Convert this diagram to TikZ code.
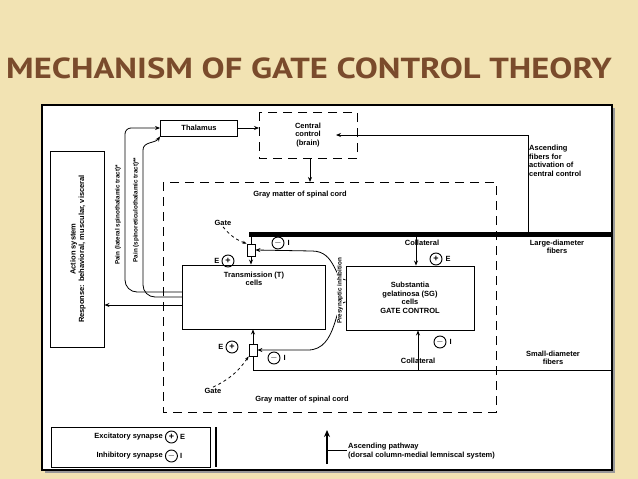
\documentclass[tikz,border=0pt]{standalone}
\usepackage{fontspec}
\setmainfont{Liberation Sans}
\newfontfamily\titlefont{PT Sans}
\usetikzlibrary{positioning, arrows.meta}
\definecolor{slidebg}{HTML}{F2E3B3}
\definecolor{titlebrown}{HTML}{7A4B2C}
\tikzset{
  lbl/.style={font=\fontsize{7.5}{8.5}\selectfont\bfseries, align=center, inner sep=1pt},
  small/.style={lbl, font=\fontsize{6.3}{7}\selectfont\bfseries},
  box/.style={draw, line width=0.9pt, lbl},
  syn/.style={draw, circle, line width=0.9pt, inner sep=0pt, minimum size=12pt, font=\fontsize{9}{9}\selectfont\bfseries},
  gatebox/.style={draw, line width=0.8pt, minimum width=8pt, minimum height=12pt, inner sep=0pt},
  fib/.style={line width=0.8pt},
  dashline/.style={line width=0.9pt, dash pattern=on 9pt off 6pt},
  tip/.style={-{Stealth[length=5pt,width=4pt]}}
}
\begin{document}
\begin{tikzpicture}[x=1pt, y=-1pt]
\useasboundingbox (0,0) rectangle (638,479);
\fill[slidebg] (0,0) rectangle (638,479);
\node[anchor=west, inner sep=0pt, text=titlebrown, xscale=1.19, font=\titlefont\fontsize{29}{30}\selectfont\bfseries] (title) at (6,68) {MECHANISM OF GATE CONTROL THEORY};
% frame
\fill[black!40] (45,108) rectangle (615,473);
\draw[line width=2pt, fill=white] (42,105) rectangle (612,470);
\begin{scope}
\clip (43,106) rectangle (611,469);
% upper part
\node[box, minimum width=77pt, minimum height=16pt] (thal) at (199,128) {Thalamus};
\node[lbl] (cc) at (308,135) {Central\\control\\(brain)};
\draw[dashline] (259,112) rectangle (357,158);
\coordinate (ccL) at (259,128);
\draw[fib, tip] (thal.east) -- (ccL);
\node[lbl, anchor=north west, align=left] (asc) at (528,144) {Ascending\\fibers for\\activation of\\central control};
\coordinate (ascB) at (528,234);
\draw[fib, tip] (ascB) -- (528,135) -- (336,135);
% gray matter
\draw[dashline] (163,182) rectangle (496,412);
\draw[fib, tip] (310,158) -- (310,182);
\node[lbl] (gmT) at (300,195) {Gray matter of spinal cord};
\node[lbl] (gmB) at (302,400) {Gray matter of spinal cord};
% cells
\node[box, minimum width=143pt, minimum height=64pt, text depth=36pt] (T) at (254,297) {Transmission (T)\\cells};
\node[box, minimum width=128pt, minimum height=64pt] (SG) at (410,298) {Substantia\\gelatinosa (SG)\\cells\\GATE CONTROL};
% large fibers
\coordinate (lfL) at (249,234);
\draw[line width=5pt] (lfL) -- (640,234);
\node[lbl] (lfT) at (557,247) {Large-diameter\\fibers};
\node[gatebox] (g1) at (251,250) {};
\draw[fib] (251,234) -- (g1.north);
\draw[fib, tip] (g1.south) -- (T.north -| g1);
\node[lbl] (gate1) at (223,223) {Gate};
\draw[fib, dashed, -{Stealth[length=4pt]}] (gate1.south) to[bend right=15] (g1.north west);
\node[syn] (p1) at (228,261) {+};
\node[lbl, left=1pt of p1] {E};
\node[syn] (m1) at (278,243) {$-$};
\node[lbl, right=2pt of m1] {I};
\coordinate (col1) at (416,234);
\draw[fib, tip] (col1) -- (SG.north -| col1);
\node[lbl] (colT) at (422,243) {Collateral};
\node[syn] (p2) at (436,259) {+};
\node[lbl, right=2pt of p2] {E};
% small fibers
\node[gatebox] (g2) at (253,350) {};
\coordinate (sfL) at (253,370);
\draw[fib] (sfL) -- (640,370);
\draw[fib] (sfL) -- (g2.south);
\draw[fib, tip] (g2.north) -- (T.south -| g2);
\node[lbl] (sfT) at (553,358) {Small-diameter\\fibers};
\node[lbl] (gate2) at (213,391) {Gate};
\draw[fib, dashed, -{Stealth[length=4pt]}] (gate2.north) to[bend right=15] (g2.south west);
\node[syn] (p3) at (232,347) {+};
\node[lbl, left=1pt of p3] {E};
\node[syn] (m2) at (274,358) {$-$};
\node[lbl, right=2pt of m2] {I};
\coordinate (col2) at (418,370);
\draw[fib, tip] (col2) -- (SG.south -| col2);
\node[lbl] (colB) at (418,361) {Collateral};
\node[syn] (m3) at (440,342) {$-$};
\node[lbl, right=2pt of m3] {I};
% presynaptic inhibition
\draw[fib, tip] (SG.west |- 0,280) .. controls (334,280) and (336,251) .. (312,251) -- (g1.east);
\draw[fib, tip] (SG.west |- 0,302) .. controls (334,302) and (338,350) .. (308,350) -- (g2.east);
\node[small, rotate=90, fill=white, inner sep=0.5pt] (pre) at (340,291) {Presynaptic inhibition};
% output side
\node[box, minimum width=54pt, minimum height=196pt] (act) at (77,249) {};
\node[lbl, rotate=90] (actT) at (78,249) {Action system\\Response: behavioral, muscular, visceral};
\draw[fib, tip] (T.west |- 0,305) -- (act.east |- 0,305);
\draw[fib, tip] (T.west |- 0,292) -- (137,292) to[out=180, in=270] (125,280) -- (125,134) to[out=90, in=180] (131,128) -- (thal.west);
\draw[fib, tip] (T.west |- 0,297) -- (155,297) to[out=180, in=270] (143,285) -- (143,150) to[out=90, in=235] (thal.south west);
\node[small, rotate=90] (p1t) at (118,215) {Pain (lateral spinothalamic tract)*};
\node[small, rotate=90] (p2t) at (136,210) {Pain (spinoreticulothalamic tract)**};
% legend
\draw[line width=0.9pt] (51,427) rectangle (210,467);
\draw[line width=1.2pt] (216,427) -- (216,467);
\node[lbl, anchor=east] (exc) at (164,437) {Excitatory synapse};
\node[syn, right=1pt of exc] (lp) {+};
\node[lbl, right=1pt of lp] {E};
\node[lbl, anchor=east] (inh) at (164,456) {Inhibitory synapse};
\node[syn, right=1pt of inh] (lm) {$-$};
\node[lbl, right=1pt of lm] {I};
\coordinate (apB) at (327,464);
\draw[line width=2pt, -{Stealth[length=7pt,width=6pt]}] (apB) -- (327,430);
\node[lbl, anchor=west, align=left] (ap) at (347,451) {Ascending pathway\\(dorsal column-medial lemniscal system)};
\draw[fib] (327,450) -- (ap.west |- 0,450);
\end{scope}
\end{tikzpicture}
\end{document}
